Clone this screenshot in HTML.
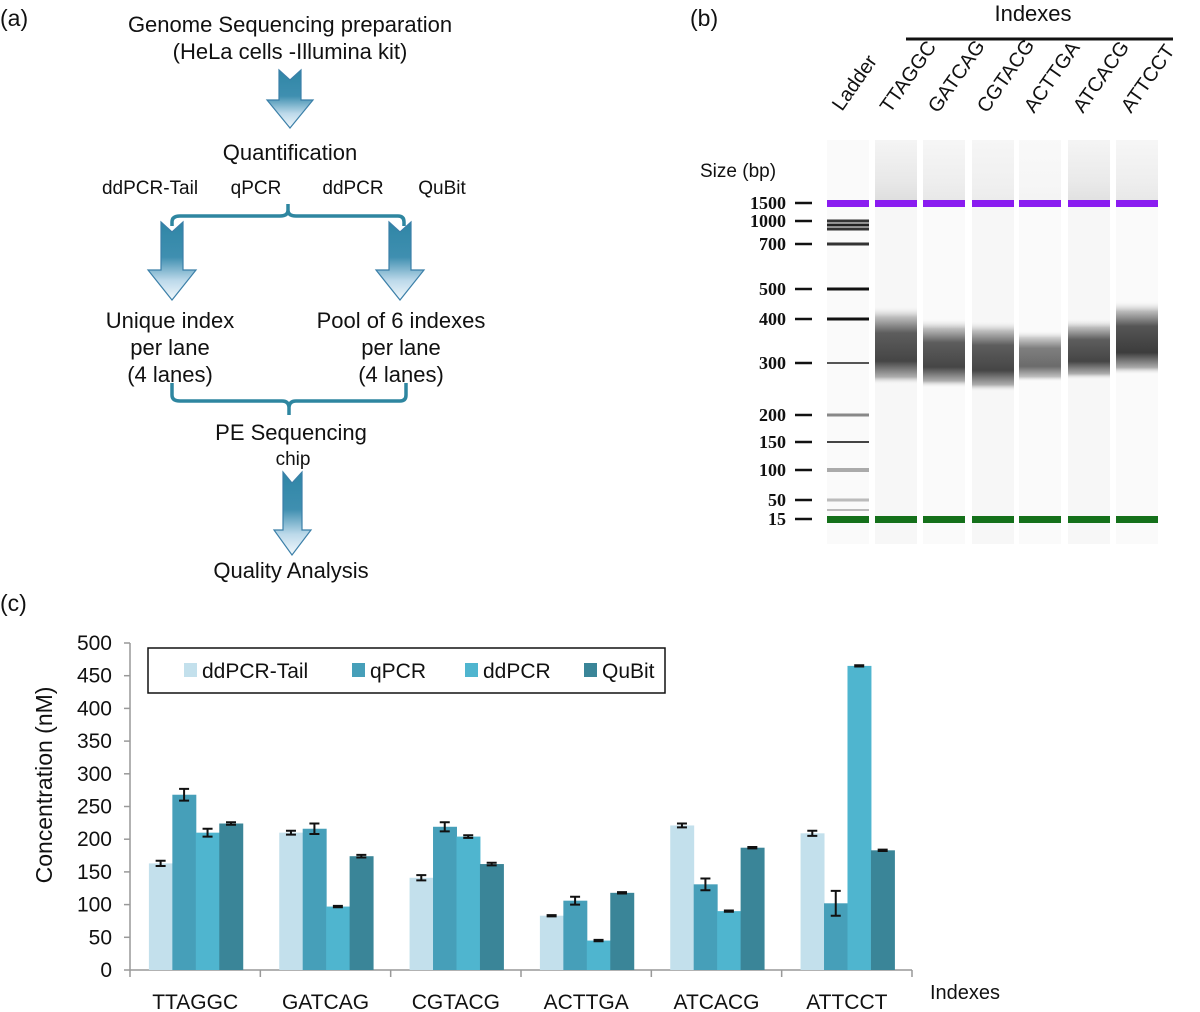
<!DOCTYPE html>
<html><head><meta charset="utf-8">
<style>
body{margin:0;background:#fff;}
svg{display:block;font-family:"Liberation Sans",Arial,sans-serif;}
</style></head>
<body>
<svg id="fig" width="1200" height="1012" viewBox="0 0 1200 1012" xmlns="http://www.w3.org/2000/svg">
<defs>
<linearGradient id="arrowGrad" x1="0" y1="0" x2="0" y2="1">
<stop offset="0" stop-color="#2f86a6"/><stop offset="0.45" stop-color="#3f8fb0"/><stop offset="0.75" stop-color="#bcd9ea"/><stop offset="1" stop-color="#f2f8fc"/>
</linearGradient>
<linearGradient id="smear" x1="0" y1="0" x2="0" y2="1">
<stop offset="0" stop-color="#fff" stop-opacity="0"/><stop offset="0.15" stop-color="#bbb"/><stop offset="0.35" stop-color="#555"/><stop offset="0.7" stop-color="#3c3c3c"/><stop offset="0.9" stop-color="#aaa"/><stop offset="1" stop-color="#fff" stop-opacity="0"/>
</linearGradient>
<linearGradient id="topfade" x1="0" y1="0" x2="0" y2="1">
<stop offset="0" stop-color="#f4f4f4"/><stop offset="0.7" stop-color="#e6e6e6"/><stop offset="1" stop-color="#dcdcdc"/>
</linearGradient>
</defs>

<!-- Panel a -->
<g font-size="22" fill="#111" text-anchor="middle">
<text x="0" y="26" text-anchor="start" font-size="23">(a)</text>
<text x="290" y="32">Genome Sequencing preparation</text>
<text x="290" y="59">(HeLa cells -Illumina kit)</text>
<text x="290" y="160">Quantification</text>
<g font-size="19">
<text x="150" y="194">ddPCR-Tail</text>
<text x="256" y="194">qPCR</text>
<text x="353" y="194">ddPCR</text>
<text x="442" y="194">QuBit</text>
</g>
<text x="170" y="328">Unique index</text>
<text x="170" y="355">per lane</text>
<text x="170" y="382">(4 lanes)</text>
<text x="401" y="328">Pool of 6 indexes</text>
<text x="401" y="355">per lane</text>
<text x="401" y="382">(4 lanes)</text>
<text x="291" y="440">PE Sequencing</text>
<text x="293" y="465" font-size="19">chip</text>
<text x="291" y="578">Quality Analysis</text>
</g>
<g fill="url(#arrowGrad)" stroke="#3b7fa8" stroke-width="1.2">
<polygon points="279,70 290,80 301,70 301,100 313,100 290,128 267,100 279,100"/>
<polygon points="161,222 172,232 183,222 183,270 196,270 172,300 148,270 161,270"/>
<polygon points="389,222 400,232 411,222 411,270 424,270 400,300 376,270 389,270"/>
<polygon points="283,472 292,483 302,472 302,530 311,530 292,555 274,530 283,530"/>
</g>
<g fill="none" stroke="#2e86a0" stroke-width="3.5">
<path d="M172,226 L172,222 Q172,216 180,216 L280,216 Q288,216 288,210 L288,204 M288,210 Q288,216 296,216 L398,216 Q404,216 404,222 L404,226"/>
<path d="M172,383 L172,395 Q172,401 180,401 L282,401 Q289,401 289,408 L289,415 M289,408 Q289,401 296,401 L400,401 Q406,401 406,395 L406,383"/>
</g>

<!-- Panel b -->
<g>
<text x="690" y="26" font-size="23" fill="#111">(b)</text>
<text x="1033" y="21" font-size="22" text-anchor="middle" fill="#111">Indexes</text>
<line x1="906" y1="39" x2="1173" y2="39" stroke="#111" stroke-width="3"/>
<text x="700" y="177" font-size="19" fill="#111">Size (bp)</text>
<g id="gel"></g>
</g>

<!-- Panel c -->
<g>
<text x="0" y="611" font-size="23" fill="#111">(c)</text>
<text transform="translate(52,785) rotate(-90)" font-size="23" text-anchor="middle" fill="#111">Concentration (nM)</text>
<text x="930" y="999" font-size="20" fill="#111">Indexes</text>
<g id="chart"></g>
<g>
<rect x="148" y="648" width="517" height="45" fill="#fff" stroke="#111" stroke-width="1.5"/>
<g id="legendItems"></g>
</g>
</g>
</svg>
<script>
const NS='http://www.w3.org/2000/svg';
// ---- chart data ----
const categories=['TTAGGC','GATCAG','CGTACG','ACTTGA','ATCACG','ATTCCT'];
const seriesNames=['ddPCR-Tail','qPCR','ddPCR','QuBit'];
const seriesColors=['#c3e0ec','#469fb9','#4fb5cf','#3a8598'];
const tailVals=[163,210,141,83,221,209];
const qpcrVals=[268,216,219,106,131,102];
const ddpcrVals=[210,97,204,45,90,465];
const qubitVals=[224,174,162,118,187,183];
const tailErr=[4,3,4,1,3,4];
const qpcrErr=[9,8,7,6,9,19];
const ddpcrErr=[6,1,2,1,1,1];
const qubitErr=[2,2,2,1,1,1];
const yTicks=[0,50,100,150,200,250,300,350,400,450,500];

const X0=130,X1=912,Y0=970,YTOP=643,YMAX=500;
const catW=(X1-X0)/categories.length;
const yScale=v=>Y0-(v/YMAX)*(Y0-YTOP);
const xBand=i=>X0+i*catW;
const barW=catW*0.18, groupOff=catW*0.145;
function mk(tag,attrs,parent){const e=document.createElementNS(NS,tag);for(const k in attrs)e.setAttribute(k,attrs[k]);parent.appendChild(e);return e;}
const chart=document.getElementById('chart');
let ax=mk('line',{x1:X0,y1:YTOP,x2:X0,y2:Y0,stroke:'#999','stroke-width':1.5},chart);


let bx=mk('line',{x1:X0,y1:Y0,x2:X1,y2:Y0,stroke:'#999','stroke-width':1.5},chart);


yTicks.forEach(t=>{
  const y=yScale(t);
  const l=mk('line',{x1:X0-6,y1:y,x2:X0,y2:y,stroke:'#999','stroke-width':1.5},chart);
  
  
  const tx=mk('text',{x:X0-18,y:y+7,'text-anchor':'end','font-size':21,fill:'#111'},chart);
  tx.textContent=t;
  
  
});
categories.forEach((c,i)=>{
  const x=xBand(i+1);
  const l=mk('line',{x1:x,y1:Y0,x2:x,y2:Y0+7,stroke:'#999','stroke-width':1.5},chart);
  
  
  const tx=mk('text',{x:xBand(i)+catW/2,y:1009,'text-anchor':'middle','font-size':21,fill:'#111'},chart);
  tx.textContent=c;
  
  
});
const l0=mk('line',{x1:X0,y1:Y0,x2:X0,y2:Y0+7,stroke:'#999','stroke-width':1.5},chart);


const allVals=[tailVals,qpcrVals,ddpcrVals,qubitVals];
const allErr=[tailErr,qpcrErr,ddpcrErr,qubitErr];
categories.forEach((c,i)=>{
  allVals.forEach((vals,s)=>{
    const x=xBand(i)+groupOff+s*barW;
    const y=yScale(vals[i]);
    const r=mk('rect',{x:x,y:y,width:barW+0.5,height:Y0-y,fill:seriesColors[s]},chart);
    
    
    const e=allErr[s][i];
    const cx=x+barW/2, yt=yScale(vals[i]+e), yb=yScale(vals[i]-e);
    const g=mk('path',{d:`M${cx-5},${yt}H${cx+5}M${cx},${yt}V${yb}M${cx-5},${yb}H${cx+5}`,stroke:'#111','stroke-width':2,fill:'none'},chart);
    
    
  });
});
const leg=document.getElementById('legendItems');
const legX=[184,352,465,584];
seriesNames.forEach((n,s)=>{
  const r=mk('rect',{x:legX[s],y:663,width:13,height:14,fill:seriesColors[s]},leg);
  
  
  const t=mk('text',{x:legX[s]+18,y:678,'font-size':21,fill:'#111'},leg);
  t.textContent=n;
  
  
});

// ---- gel ----
const gel=document.getElementById('gel');
const ladderSizes=['1500','1000','700','500','400','300','200','150','100','50','15'];
const ladderY=[203,221,244,289,319,363,415,442,470,500,519];
const laneNames=['Ladder','TTAGGC','GATCAG','CGTACG','ACTTGA','ATCACG','ATTCCT'];
const laneX=[827,875,923,972,1019,1068,1116];
const LW=42;
const smearTop=[305,318,320,330,318,300];
const smearBot=[385,388,392,382,380,375];
const smearOpacity=[0.95,0.95,0.95,0.75,0.95,1];
laneX.forEach((x,i)=>{
  const bg=mk('rect',{x:x,y:140,width:LW,height:404,fill:i%2?'#f7f7f7':'#fafafa'},gel);
  
  
  if(i>0){
    const tf=mk('rect',{x:x,y:140,width:LW,height:60,fill:'url(#topfade)',opacity:[0.9,0.6,0.4,0.2,0.8,0.6][i-1]},gel);
    
    
    const sm=mk('rect',{x:x,y:smearTop[i-1],width:LW,height:smearBot[i-1]-smearTop[i-1],fill:'url(#smear)',opacity:smearOpacity[i-1]},gel);
    
    
  }
  const p=mk('rect',{x:x,y:200,width:LW,height:7,fill:'#8a1cf0'},gel);
  
  
  const g=mk('rect',{x:x,y:516,width:LW,height:7,fill:'#14701a'},gel);
  
  
  const t=mk('text',{transform:`translate(${x+LW/2-6},${i==0?112:114}) rotate(-55)`,'font-size':20,fill:'#111'},gel);
  t.textContent=laneNames[i];
  
  
});
const bands=[[221,3,'#333'],[225,3,'#222'],[229,3,'#333'],[244,3,'#333'],[289,3,'#111'],[319,3,'#111'],[363,2,'#555'],[415,3,'#888'],[442,2,'#444'],[470,4,'#aaa'],[500,3,'#bbb'],[510,2,'#bbb']];
bands.forEach(b=>{
  const r=mk('rect',{x:laneX[0],y:b[0]-b[1]/2,width:LW,height:b[1],fill:b[2]},gel);
  
  
});
ladderSizes.forEach((s,i)=>{
  const y=ladderY[i];
  const t=mk('text',{x:786,y:y+6,'text-anchor':'end','font-size':18,'font-weight':'bold',fill:'#111','font-family':'Liberation Serif, serif'},gel);
  t.textContent=s;
  
  
  const l=mk('line',{x1:795,y1:y,x2:812,y2:y,stroke:'#111','stroke-width':2.5},gel);
  
  
});
</script>
</body></html>
